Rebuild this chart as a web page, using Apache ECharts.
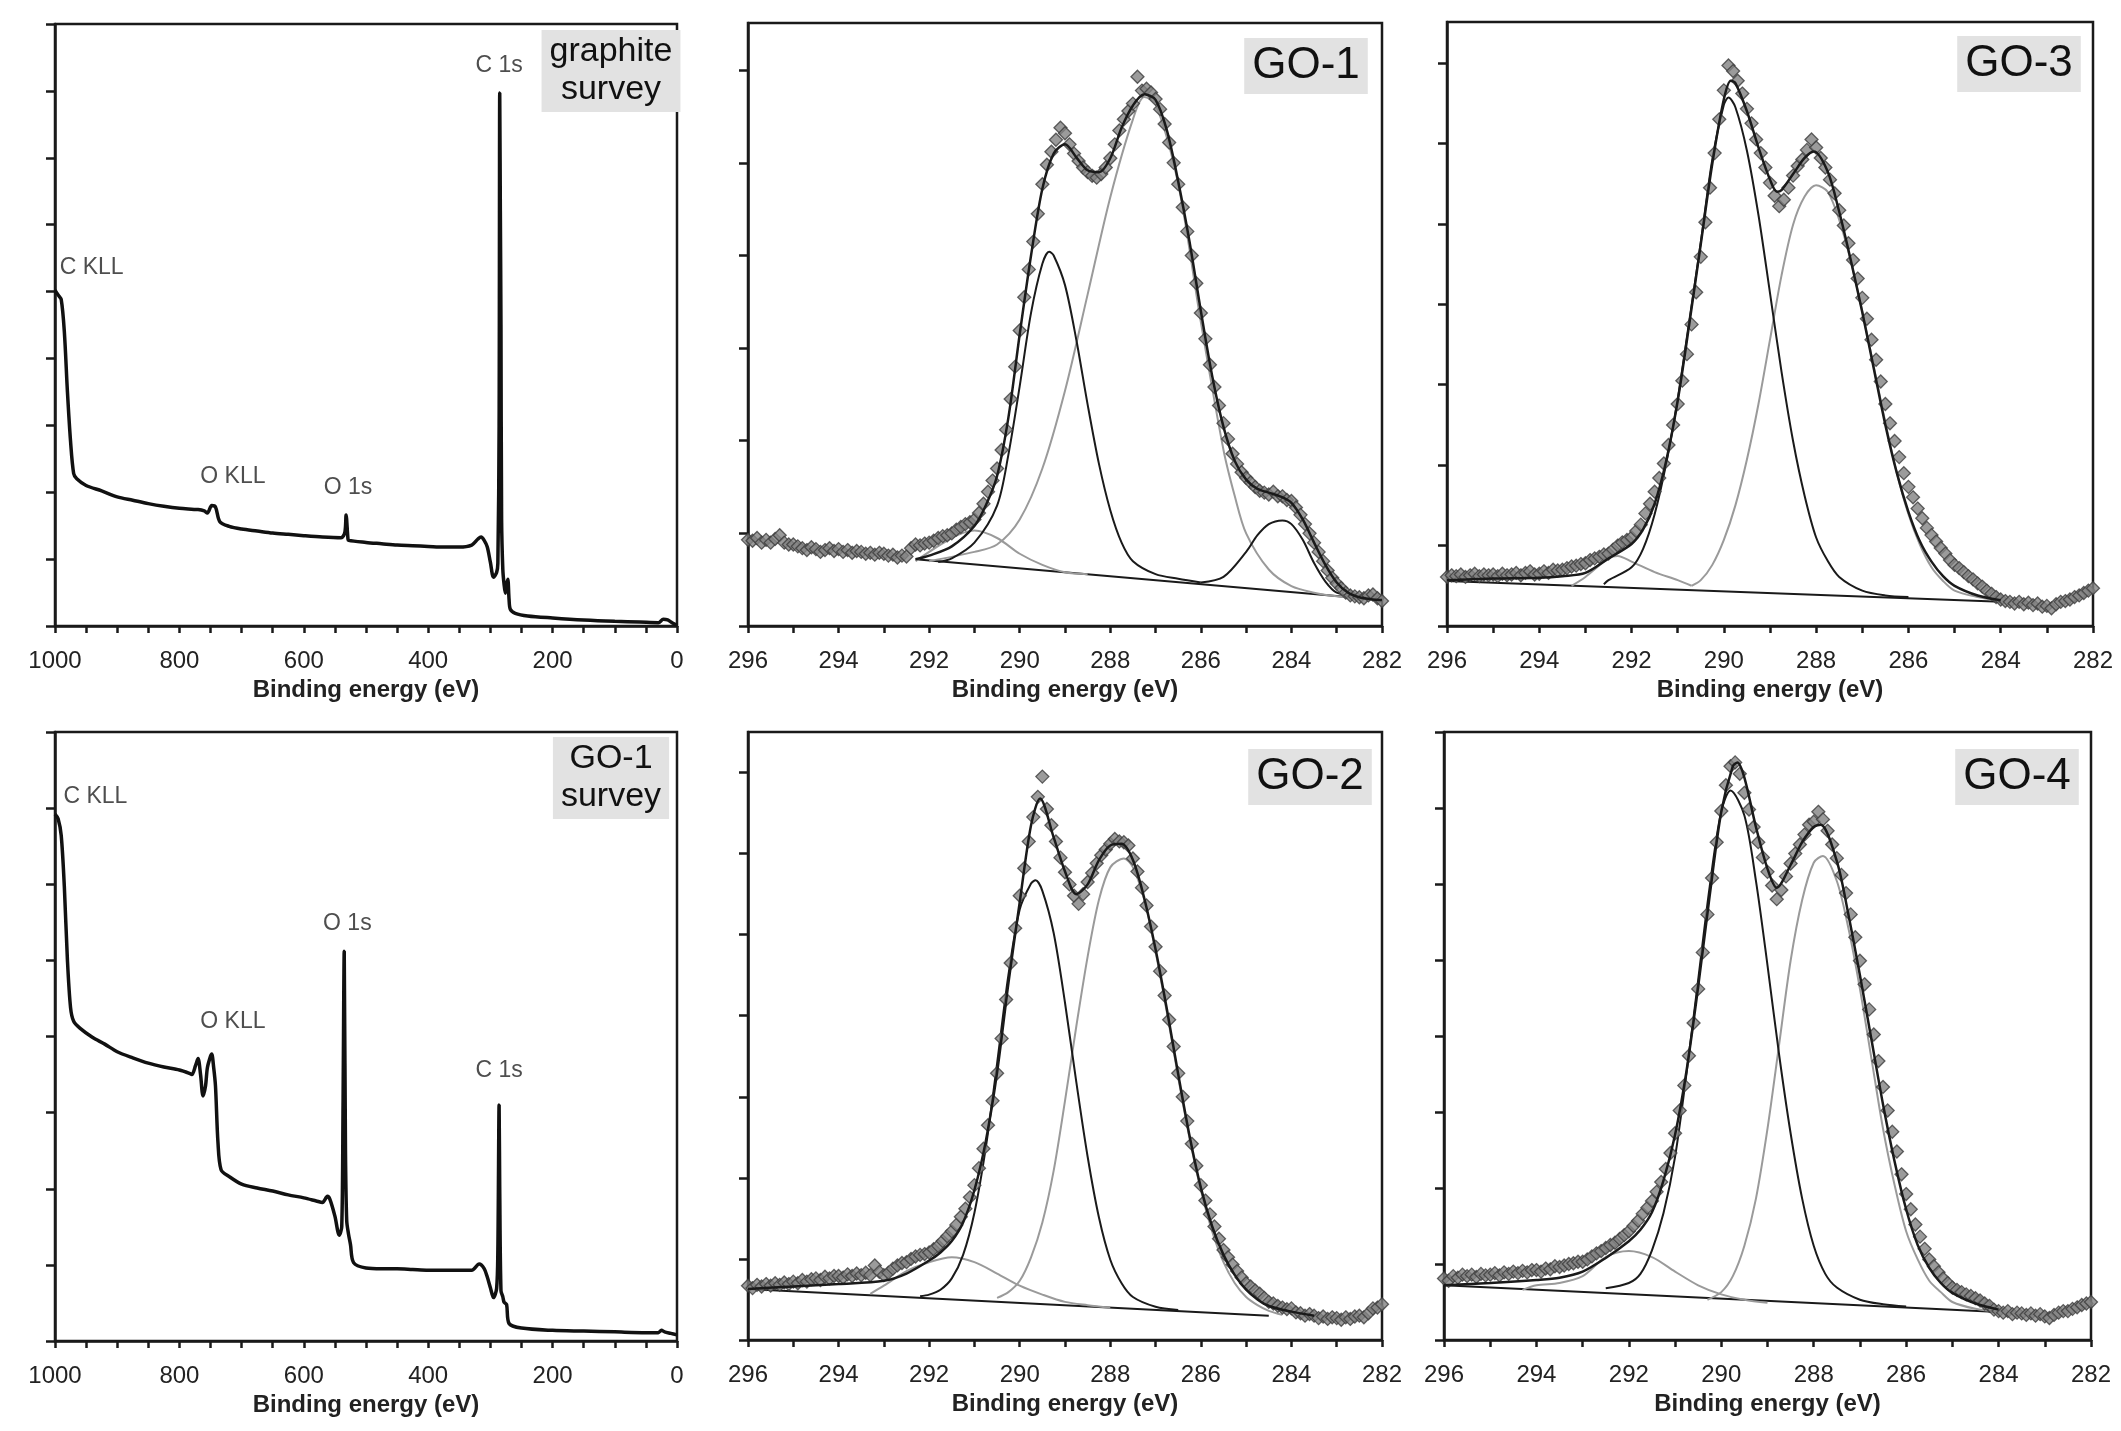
<!DOCTYPE html>
<html>
<head>
<meta charset="utf-8">
<title>XPS survey and C 1s spectra</title>
<script src="https://cdn.jsdelivr.net/npm/echarts@6/dist/echarts.min.js"></script>
<style>
html, body { margin: 0; padding: 0; background: #fff; }
#main { width: 2121px; height: 1431px; }
</style>
</head>
<body>
<div id="main"></div>
<script>
var FONT = 'Liberation Sans';
var INK = '#1a1a1a';
var GREY = '#9a9a9a';

// ---- survey spectra: [binding energy, intensity in tick units]
var graphiteSurvey = [
  [1000,5.02],[995,4.95],[990,4.88],[985,4.40],[980,3.50],[975,2.76],[970,2.28],[965,2.20],[950,2.10],
  [925,2.02],[900,1.93],[875,1.88],[850,1.83],[825,1.79],[800,1.76],[770,1.74],[760,1.72],[755,1.69],
  [748,1.80],[742,1.78],[735,1.56],[720,1.49],[700,1.45],[675,1.42],[650,1.39],[625,1.37],[600,1.35],
  [570,1.33],[540,1.32],[534,1.40],[532,1.66],[529,1.30],[528,1.28],[500,1.25],[475,1.23],[450,1.21],
  [425,1.20],[400,1.19],[375,1.18],[350,1.18],[330,1.21],[320,1.30],[315,1.33],[310,1.28],[305,1.18],
  [300,0.95],[295,0.73],[290,0.80],[288,0.94],[286,3.00],[285,7.97],[284,6.20],[283,4.50],[282,1.60],
  [280,0.84],[278,0.62],[276,0.49],[274,0.62],[272,0.70],[270,0.40],[268,0.25],[260,0.19],[240,0.15],
  [200,0.12],[150,0.09],[100,0.07],[60,0.06],[30,0.05],[22,0.10],[15,0.09],[8,0.05],[0,0.01]
];
var go1Survey = [
  [1000,6.92],[995,6.86],[990,6.64],[985,5.97],[980,5.00],[975,4.38],[970,4.20],[960,4.11],[940,3.99],
  [920,3.90],[900,3.80],[875,3.72],[850,3.65],[825,3.60],[800,3.56],[785,3.52],[780,3.50],[774,3.62],
  [770,3.71],[766,3.50],[762,3.22],[758,3.35],[755,3.59],[750,3.74],[748,3.77],[745,3.60],[742,3.35],
  [738,2.61],[733,2.25],[720,2.16],[700,2.06],[675,2.01],[650,1.97],[625,1.92],[600,1.88],[580,1.84],
  [570,1.82],[562,1.90],[558,1.86],[550,1.64],[543,1.39],[539,1.50],[537,3.00],[535,5.12],[533,2.50],
  [531,1.58],[528,1.40],[525,1.27],[520,1.03],[500,0.96],[475,0.95],[450,0.95],[425,0.94],[400,0.93],
  [360,0.93],[330,0.93],[318,1.01],[310,0.95],[305,0.84],[300,0.70],[295,0.57],[290,0.69],[288,1.20],
  [286,3.10],[285,2.00],[283,0.66],[280,0.58],[278,0.51],[274,0.48],[270,0.23],[250,0.17],[200,0.14],
  [150,0.13],[100,0.12],[50,0.11],[30,0.11],[25,0.14],[20,0.12],[10,0.10],[0,0.08]
];
var graphiteLabels = [['C 1s', 286, 8.38], ['C KLL', 941, 5.35], ['O KLL', 714, 2.24], ['O 1s', 529, 2.07]];
var go1SurveyLabels = [['C KLL', 935, 7.15], ['O KLL', 714, 4.20], ['O 1s', 530, 5.48], ['C 1s', 286, 3.55]];

// ---- C 1s high resolution data points, 296 -> 282 eV every 0.1 eV
var c1sEnergy = [];
for (var i = 0; i <= 140; i++) c1sEnergy.push(Math.round((296 - i * 0.1) * 10) / 10);

var go1Counts = [
  0.93,0.92,0.95,0.90,0.93,0.90,0.94,0.98,0.90,0.88, 0.88,0.86,0.84,0.82,0.85,0.83,0.80,0.82,0.84,0.81,
  0.83,0.80,0.82,0.79,0.81,0.80,0.78,0.79,0.77,0.79, 0.78,0.76,0.77,0.74,0.76,0.75,0.84,0.88,0.87,0.89,
  0.90,0.92,0.95,0.97,0.98,1.00,1.04,1.07,1.10,1.12, 1.15,1.22,1.32,1.45,1.57,1.70,1.90,2.12,2.45,2.80,
  3.19,3.55,3.85,4.15,4.45,4.77,4.98,5.12,5.25,5.38, 5.32,5.20,5.10,5.02,4.95,4.90,4.86,4.84,4.88,4.95,
  5.05,5.20,5.35,5.47,5.56,5.64,5.93,5.78,5.80,5.76, 5.69,5.58,5.42,5.22,5.00,4.77,4.52,4.26,4.00,3.70,
  3.38,3.10,2.82,2.58,2.38,2.19,2.02,1.86,1.75,1.66, 1.60,1.55,1.50,1.46,1.44,1.42,1.45,1.40,1.40,1.36,
  1.35,1.28,1.20,1.10,1.00,0.90,0.80,0.70,0.60,0.52, 0.46,0.41,0.36,0.33,0.32,0.31,0.30,0.33,0.34,0.30,
  0.27
];
var go3Counts = [
  0.61,0.63,0.62,0.64,0.61,0.63,0.65,0.62,0.64,0.63, 0.64,0.62,0.65,0.63,0.64,0.66,0.63,0.66,0.68,0.64,
  0.65,0.68,0.66,0.70,0.69,0.70,0.72,0.74,0.75,0.77, 0.78,0.82,0.84,0.86,0.89,0.90,0.95,1.00,1.04,1.07,
  1.10,1.18,1.26,1.40,1.52,1.67,1.84,2.02,2.25,2.50, 2.76,3.05,3.38,3.75,4.15,4.59,5.02,5.45,5.88,6.30,
  6.66,6.97,6.90,6.78,6.62,6.43,6.25,6.05,5.88,5.70, 5.51,5.35,5.22,5.30,5.45,5.60,5.72,5.80,5.92,6.05,
  5.95,5.82,5.70,5.55,5.38,5.17,4.98,4.76,4.55,4.32, 4.08,3.82,3.56,3.31,3.04,2.76,2.52,2.30,2.10,1.90,
  1.73,1.60,1.46,1.34,1.22,1.13,1.05,0.97,0.90,0.82, 0.76,0.72,0.67,0.62,0.58,0.53,0.49,0.44,0.40,0.36,
  0.33,0.31,0.30,0.28,0.30,0.27,0.29,0.26,0.28,0.24, 0.25,0.22,0.27,0.30,0.31,0.33,0.36,0.38,0.41,0.44,
  0.47
];
var go2Counts = [
  0.67,0.64,0.68,0.66,0.69,0.67,0.70,0.68,0.71,0.69, 0.72,0.70,0.74,0.72,0.75,0.76,0.74,0.78,0.76,0.79,
  0.79,0.77,0.81,0.79,0.82,0.80,0.83,0.80,0.92,0.84, 0.80,0.83,0.88,0.92,0.95,0.96,1.00,1.03,1.05,1.06,
  1.08,1.12,1.16,1.22,1.28,1.34,1.42,1.52,1.62,1.76, 1.91,2.12,2.36,2.65,2.95,3.29,3.72,4.20,4.65,5.08,
  5.48,5.82,6.15,6.45,6.70,6.95,6.55,6.35,6.15,5.95, 5.77,5.62,5.48,5.38,5.50,5.65,5.76,5.88,5.98,6.05,
  6.12,6.18,6.15,6.14,6.10,5.94,5.78,5.58,5.36,5.10, 4.85,4.55,4.25,3.95,3.62,3.29,3.00,2.70,2.42,2.15,
  1.91,1.72,1.55,1.40,1.25,1.11,1.02,0.93,0.85,0.77, 0.70,0.66,0.61,0.57,0.52,0.47,0.45,0.42,0.40,0.38,
  0.39,0.34,0.33,0.30,0.32,0.30,0.27,0.29,0.26,0.28, 0.27,0.25,0.28,0.26,0.29,0.30,0.28,0.33,0.39,0.40,
  0.44
];
var go4Counts = [
  0.81,0.78,0.84,0.82,0.86,0.84,0.86,0.83,0.87,0.85, 0.86,0.88,0.85,0.89,0.87,0.90,0.88,0.91,0.89,0.92,
  0.92,0.90,0.94,0.93,0.97,0.96,0.98,1.00,1.01,1.03, 1.03,1.06,1.10,1.14,1.17,1.21,1.25,1.28,1.33,1.38,
  1.43,1.50,1.57,1.66,1.74,1.83,1.95,2.08,2.25,2.46, 2.72,3.02,3.35,3.74,4.17,4.62,5.10,5.60,6.08,6.55,
  6.96,7.30,7.55,7.60,7.45,7.20,6.98,6.75,6.55,6.35, 6.16,5.98,5.80,5.92,6.10,6.27,6.40,6.52,6.65,6.78,
  6.82,6.95,6.85,6.70,6.52,6.34,6.12,5.88,5.60,5.30, 4.99,4.68,4.35,4.02,3.67,3.33,3.02,2.74,2.48,2.18,
  1.92,1.72,1.52,1.36,1.20,1.06,0.97,0.89,0.81,0.75, 0.69,0.66,0.63,0.60,0.58,0.55,0.52,0.48,0.45,0.40,
  0.38,0.36,0.38,0.34,0.36,0.35,0.33,0.35,0.32,0.34, 0.31,0.29,0.33,0.36,0.38,0.38,0.41,0.43,0.46,0.48,
  0.50
];

// ---- fitted envelopes, components and baselines: [eV, intensity]
var go1Envelope = [[292.3,0.72],[292,0.76],[291.5,0.86],[291,1.08],[290.75,1.30],[290.5,1.62],[290.25,2.25],[290,3.15],[289.75,4.0],[289.5,4.72],[289.25,5.10],[289,5.20],[288.75,5.06],[288.5,4.92],[288.25,4.90],[288,5.05],[287.75,5.38],[287.5,5.62],[287.25,5.74],[287,5.68],[286.75,5.35],[286.5,4.80],[286.25,4.15],[286,3.40],[285.75,2.70],[285.5,2.15],[285.25,1.78],[285,1.58],[284.75,1.48],[284.5,1.44],[284.25,1.40],[284,1.33],[283.75,1.15],[283.5,0.90],[283.25,0.66],[283,0.47],[282.75,0.36],[282.5,0.31],[282.25,0.29],[282,0.28]];
var go1PeakA = [[291.8,0.69],[291.5,0.73],[291,0.90],[290.5,1.30],[290.25,1.85],[290,2.59],[289.75,3.38],[289.5,3.91],[289.35,4.04],[289.25,4.00],[289,3.68],[288.75,3.09],[288.5,2.39],[288.25,1.75],[288,1.25],[287.75,0.90],[287.5,0.70],[287,0.56],[286.5,0.51],[286,0.47]];
var go1PeakB = [[292,0.70],[291,0.80],[290.5,0.88],[290,1.15],[289.5,1.70],[289,2.54],[288.5,3.58],[288,4.63],[287.5,5.47],[287.25,5.71],[287,5.64],[286.5,4.77],[286,3.28],[285.5,1.90],[285.25,1.40],[285,1.00],[284.5,0.61],[284,0.43],[283.5,0.36],[283,0.32],[282.5,0.30]];
var go1PeakC = [[292.3,0.70],[291.5,0.95],[291,1.03],[290.5,0.95],[290,0.78],[289.5,0.66],[289,0.58],[288.5,0.56]];
var go1PeakD = [[286,0.47],[285.5,0.53],[285,0.80],[284.75,0.98],[284.5,1.10],[284.2,1.14],[284,1.10],[283.75,0.93],[283.5,0.68],[283.25,0.48],[283,0.36],[282.5,0.31]];
var go1Base = [[292.3,0.72],[282,0.28]];

var go3Envelope = [[296,0.57],[295,0.59],[294,0.60],[293.5,0.62],[293,0.66],[292.5,0.84],[292,1.02],[291.75,1.20],[291.5,1.52],[291.25,2.05],[291,2.80],[290.75,3.75],[290.5,4.75],[290.25,5.75],[290,6.55],[289.85,6.78],[289.75,6.75],[289.5,6.40],[289.25,5.95],[289,5.55],[288.85,5.40],[288.75,5.42],[288.5,5.62],[288.25,5.82],[288.05,5.90],[287.75,5.65],[287.5,5.15],[287.25,4.55],[287,3.90],[286.75,3.20],[286.5,2.50],[286.25,1.90],[286,1.42],[285.75,1.05],[285.5,0.80],[285.25,0.62],[285,0.50],[284.5,0.38],[284,0.32]];
var go3PeakA = [[292.6,0.52],[292.5,0.57],[292,0.73],[291.75,0.96],[291.5,1.39],[291.25,2.02],[291,2.82],[290.75,3.79],[290.5,4.77],[290.25,5.80],[290,6.48],[289.9,6.57],[289.75,6.45],[289.5,5.91],[289.25,5.11],[289,4.14],[288.75,3.16],[288.5,2.30],[288.25,1.62],[288,1.10],[287.75,0.81],[287.5,0.61],[287,0.44],[286.5,0.38],[286,0.36]];
var go3PeakB = [[290.7,0.50],[290.5,0.57],[290.25,0.76],[290,1.07],[289.75,1.50],[289.5,2.07],[289.25,2.76],[289,3.56],[288.75,4.36],[288.5,4.99],[288.25,5.34],[288,5.48],[287.75,5.40],[287.5,5.05],[287.25,4.54],[287,3.91],[286.75,3.22],[286.5,2.53],[286.25,1.90],[286,1.39],[285.75,1.01],[285.5,0.73],[285.25,0.56],[285,0.44],[284.5,0.36],[284,0.31]];
var go3PeakC = [[293.3,0.50],[293,0.61],[292.5,0.84],[292.3,0.87],[292,0.80],[291.5,0.67],[291,0.57],[290.7,0.50]];
var go3Base = [[296,0.56],[284,0.30]];

var go2Envelope = [[296,0.63],[295,0.66],[294,0.69],[293,0.73],[292.5,0.82],[292,0.98],[291.75,1.08],[291.5,1.22],[291.25,1.45],[291,1.85],[290.75,2.45],[290.5,3.30],[290.25,4.40],[290,5.40],[289.75,6.35],[289.55,6.68],[289.25,6.20],[289,5.78],[288.75,5.50],[288.5,5.62],[288.25,5.92],[288,6.10],[287.75,6.12],[287.5,5.92],[287.25,5.45],[287,4.82],[286.75,4.08],[286.5,3.28],[286.25,2.52],[286,1.88],[285.75,1.40],[285.5,1.05],[285.25,0.80],[285,0.62],[284.75,0.50],[284.5,0.42],[284,0.35],[283.5,0.30]];
var go2PeakA = [[292.2,0.54],[292,0.56],[291.75,0.62],[291.5,0.76],[291.25,1.05],[291,1.57],[290.75,2.37],[290.5,3.41],[290.25,4.50],[290,5.31],[289.75,5.63],[289.65,5.67],[289.5,5.54],[289.25,5.02],[289,4.16],[288.75,3.18],[288.5,2.26],[288.25,1.51],[288,0.99],[287.75,0.70],[287.5,0.53],[287,0.41],[286.5,0.37]];
var go2PeakB = [[290.5,0.52],[290.25,0.59],[290,0.73],[289.75,1.02],[289.5,1.45],[289.25,2.09],[289,2.95],[288.75,3.87],[288.5,4.73],[288.25,5.43],[288,5.83],[287.7,5.94],[287.5,5.83],[287.25,5.43],[287,4.79],[286.75,4.04],[286.5,3.24],[286.25,2.49],[286,1.85],[285.75,1.34],[285.5,0.96],[285.25,0.70],[285,0.53],[284.75,0.43],[284.5,0.36],[284.2,0.31]];
var go2PeakC = [[293.3,0.57],[293,0.67],[292.5,0.85],[292,0.96],[291.5,1.02],[291,0.96],[290.5,0.82],[290,0.67],[289.5,0.56],[289,0.47],[288.5,0.43],[288,0.40]];
var go2Base = [[296,0.63],[284.5,0.30]];

var go4Envelope = [[296,0.72],[295,0.75],[294,0.79],[293.5,0.82],[293,0.90],[292.5,1.08],[292,1.30],[291.75,1.45],[291.5,1.68],[291.25,2.10],[291,2.70],[290.75,3.55],[290.5,4.65],[290.25,5.85],[290,6.95],[289.75,7.55],[289.65,7.60],[289.5,7.40],[289.25,6.75],[289,6.20],[288.8,5.95],[288.5,6.25],[288.25,6.55],[288,6.75],[287.85,6.78],[287.5,6.30],[287.25,5.60],[287,4.80],[286.75,3.95],[286.5,3.10],[286.25,2.35],[286,1.72],[285.75,1.25],[285.5,0.95],[285.25,0.75],[285,0.62],[284.5,0.48],[284,0.40]];
var go4PeakA = [[292.5,0.68],[292,0.75],[291.75,0.87],[291.5,1.18],[291.25,1.67],[291,2.41],[290.75,3.52],[290.5,4.74],[290.25,5.97],[290,6.96],[289.8,7.23],[289.5,6.90],[289.25,6.04],[289,4.93],[288.75,3.76],[288.5,2.72],[288.25,1.86],[288,1.24],[287.75,0.87],[287.5,0.69],[287,0.53],[286.5,0.47],[286,0.44]];
var go4PeakB = [[290.3,0.53],[290,0.63],[289.75,0.84],[289.5,1.24],[289.25,1.86],[289,2.78],[288.75,3.88],[288.5,4.99],[288.25,5.79],[288,6.28],[287.8,6.37],[287.5,6.04],[287.25,5.42],[287,4.62],[286.75,3.70],[286.5,2.78],[286.25,2.04],[286,1.43],[285.75,1.06],[285.5,0.78],[285.25,0.63],[285,0.50],[284.5,0.41],[284,0.37]];
var go4PeakC = [[294.3,0.66],[294,0.72],[293.5,0.75],[293,0.84],[292.5,1.09],[292,1.17],[291.5,1.09],[291,0.90],[290.5,0.72],[290,0.60],[289.5,0.53],[289,0.49]];
var go4Base = [[296,0.72],[284,0.37]];

// ---- layout of the six panels (pixels)
var grids = [
  {left: 55,   top: 24,  width: 622, height: 602},
  {left: 748,  top: 23,  width: 634, height: 603},
  {left: 1447, top: 22,  width: 646, height: 604},
  {left: 55,   top: 732, width: 622, height: 609},
  {left: 748,  top: 732, width: 634, height: 608},
  {left: 1444, top: 732, width: 647, height: 608}
];

function xAxisFor(idx, min, max, step, every) {
  return {
    gridIndex: idx, type: 'value', min: min, max: max, interval: step, inverse: true,
    name: 'Binding energy (eV)', nameLocation: 'middle', nameGap: 52,
    nameTextStyle: {fontFamily: FONT, fontWeight: 'bold', fontSize: 24, color: '#222'},
    axisLine: {onZero: false, lineStyle: {color: INK, width: 2.5}},
    axisTick: {show: true, inside: false, length: 7, lineStyle: {color: INK, width: 2.5}},
    axisLabel: {
      interval: 0, margin: 23, fontFamily: FONT, fontSize: 24, color: '#222',
      formatter: function (v) { var r = Math.round(v); return r % every === 0 ? String(r) : ''; }
    },
    splitLine: {show: false}
  };
}
function yAxisFor(idx, max, nTicks) {
  var ticks = [];
  for (var k = 0; k <= nTicks; k++) ticks.push(k);
  return {
    gridIndex: idx, type: 'value', min: 0, max: max, interval: 1,
    axisLine: {show: true, onZero: false, lineStyle: {color: INK, width: 2.5}},
    axisTick: {show: true, inside: false, length: 9, customValues: ticks, lineStyle: {color: INK, width: 2.5}},
    axisLabel: {show: false},
    splitLine: {show: false}
  };
}

function line(idx, data, color, width, z) {
  return {
    type: 'line', xAxisIndex: idx, yAxisIndex: idx, data: data, symbol: 'none',
    smooth: 0.3, lineStyle: {color: color, width: width}, z: z || 2, silent: true
  };
}
function dots(idx, counts) {
  return {
    type: 'scatter', xAxisIndex: idx, yAxisIndex: idx, symbol: 'diamond', symbolSize: 13,
    data: counts.map(function (v, j) { return [c1sEnergy[j], v]; }),
    itemStyle: {color: '#828282', borderColor: '#3c3c3c', borderWidth: 1.3}, z: 3, silent: true
  };
}
function peakLabels(idx, list) {
  return {
    type: 'scatter', xAxisIndex: idx, yAxisIndex: idx, symbolSize: 1,
    itemStyle: {color: 'rgba(0,0,0,0)'},
    label: {show: true, position: 'inside', formatter: '{b}', fontFamily: FONT, fontSize: 23, color: '#222'},
    data: list.map(function (p) { return {name: p[0], value: [p[1], p[2]]}; }), z: 5, silent: true
  };
}
function tag(text, cx, top, size, lh) {
  return {
    text: text, left: cx, top: top, textAlign: 'center',
    backgroundColor: '#e2e2e2', padding: [3, 8, 3, 8],
    textStyle: {fontFamily: FONT, fontWeight: 'normal', fontSize: size, lineHeight: lh, color: '#111'}
  };
}

var series = [
  line(0, graphiteSurvey, '#111', 3.5, 2),
  peakLabels(0, graphiteLabels),
  line(3, go1Survey, '#111', 3.5, 2),
  peakLabels(3, go1SurveyLabels),

  line(1, go1Base, INK, 2), line(1, go1PeakB, GREY, 2), line(1, go1PeakC, GREY, 2),
  line(1, go1PeakA, INK, 2), line(1, go1PeakD, INK, 2),
  dots(1, go1Counts), line(1, go1Envelope, INK, 2.5, 4),

  line(2, go3Base, INK, 2), line(2, go3PeakB, GREY, 2), line(2, go3PeakC, GREY, 2),
  line(2, go3PeakA, INK, 2),
  dots(2, go3Counts), line(2, go3Envelope, INK, 2.5, 4),

  line(4, go2Base, INK, 2), line(4, go2PeakB, GREY, 2), line(4, go2PeakC, GREY, 2),
  line(4, go2PeakA, INK, 2),
  dots(4, go2Counts), line(4, go2Envelope, INK, 2.5, 4),

  line(5, go4Base, INK, 2), line(5, go4PeakB, GREY, 2), line(5, go4PeakC, GREY, 2),
  line(5, go4PeakA, INK, 2),
  dots(5, go4Counts), line(5, go4Envelope, INK, 2.5, 4)
];

var chart = echarts.init(document.getElementById('main'), null, {renderer: 'canvas'});
chart.setOption({
  backgroundColor: '#ffffff',
  animation: false,
  title: [
    tag('graphite\nsurvey', 603, 30, 34, 38),
    tag('GO-1', 1298, 38, 44, 50),
    tag('GO-3', 2011, 36, 44, 50),
    tag('GO-1\nsurvey', 603, 737, 34, 38),
    tag('GO-2', 1302, 749, 44, 50),
    tag('GO-4', 2009, 749, 44, 50)
  ],
  grid: grids.map(function (g) {
    return {left: g.left, top: g.top, width: g.width, height: g.height,
      show: true, borderColor: INK, borderWidth: 2.5, backgroundColor: 'rgba(0,0,0,0)'};
  }),
  xAxis: [
    xAxisFor(0, 0, 1000, 50, 200),
    xAxisFor(1, 282, 296, 1, 2),
    xAxisFor(2, 282, 296, 1, 2),
    xAxisFor(3, 0, 1000, 50, 200),
    xAxisFor(4, 282, 296, 1, 2),
    xAxisFor(5, 282, 296, 1, 2)
  ],
  yAxis: [
    yAxisFor(0, 9, 9),
    yAxisFor(1, 6.51, 6),
    yAxisFor(2, 7.51, 7),
    yAxisFor(3, 8, 8),
    yAxisFor(4, 7.5, 7),
    yAxisFor(5, 8, 8)
  ],
  series: series
});
</script>
</body>
</html>
